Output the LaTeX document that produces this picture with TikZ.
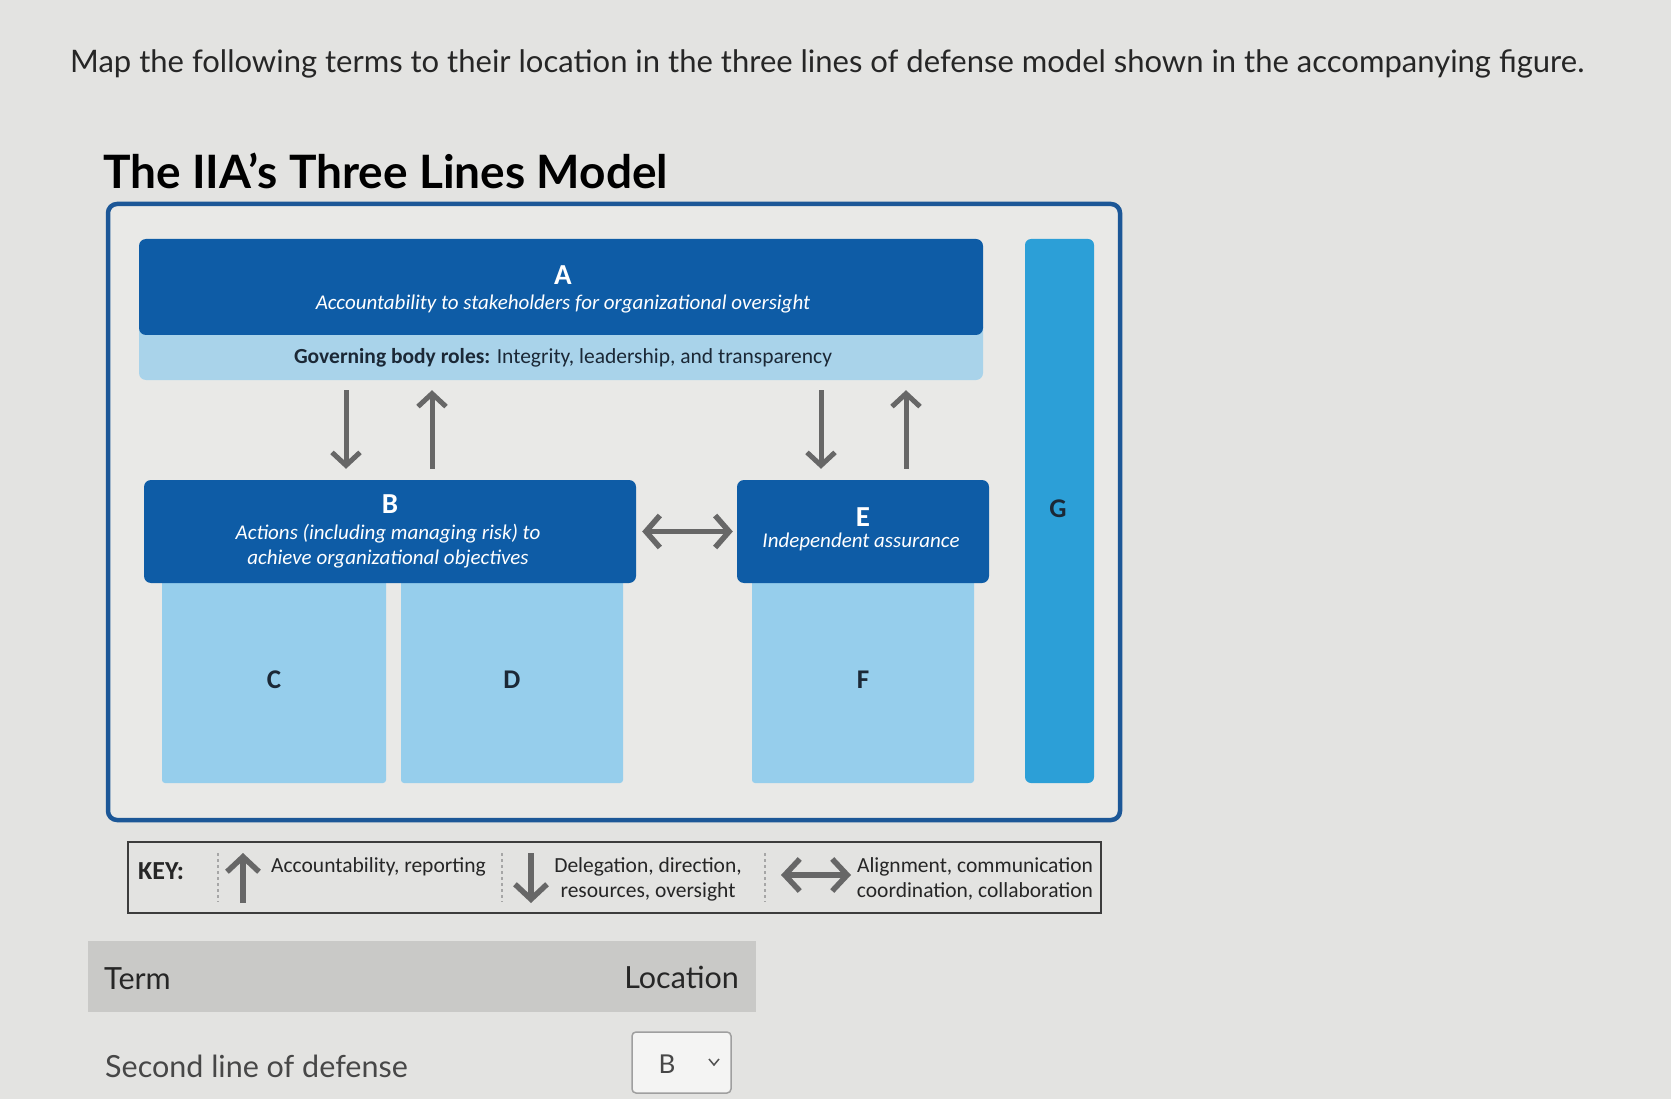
\documentclass[tikz,border=0pt]{standalone}
\usepackage{fontspec}
\setmainfont{Carlito}
\newfontfamily\lato{Lato}
\usetikzlibrary{arrows.meta,calc}
\definecolor{bg}{HTML}{E3E3E1}
\definecolor{inbg}{HTML}{E9E9E7}
\definecolor{dblue}{HTML}{0E5CA6}
\definecolor{band}{HTML}{A9D3EA}
\definecolor{lblue}{HTML}{96CEEC}
\definecolor{gblue}{HTML}{2C9FD7}
\definecolor{frame}{HTML}{1C5797}
\definecolor{arrgray}{HTML}{676767}
\definecolor{navy}{HTML}{1B2836}
\definecolor{txt}{HTML}{262626}
\definecolor{hdr}{HTML}{C9C9C7}
\tikzset{
  darkbox/.style={fill=dblue, rounded corners=7pt, inner sep=0pt},
  letter/.style={text=white, inner sep=0pt, font=\fontsize{29}{30}\selectfont\bfseries},
  desc/.style={text=white, inner sep=0pt, align=center, font=\fontsize{21}{25}\selectfont\itshape},
  lightbox/.style={fill=lblue, rounded corners=3pt, text=navy, inner sep=0pt, font=\fontsize{27}{30}\selectfont\bfseries},
  arr/.style={draw=arrgray, line width=5pt, -{Straight Barb[length=13pt,width=28pt,line width=5pt]}},
  darr/.style={draw=arrgray, line width=5.5pt, {Straight Barb[length=14pt,width=32pt,line width=5.5pt]}-{Straight Barb[length=14pt,width=32pt,line width=5.5pt]}},
  karr/.style={draw=arrgray, line width=5.5pt, -{Straight Barb[length=15pt,width=32pt,line width=5.5pt]}},
  kdarr/.style={draw=arrgray, line width=5.5pt, {Straight Barb[length=15pt,width=32pt,line width=5.5pt]}-{Straight Barb[length=15pt,width=32pt,line width=5.5pt]}},
  sep/.style={draw=gray!70, line width=1.5pt, dashed},
  keytxt/.style={text=txt, align=center, inner sep=0pt, font=\fontsize{21.5}{25}\selectfont},
  tab/.style={text=txt, inner sep=0pt, font=\lato\fontsize{30.5}{34}\selectfont},
}
\begin{document}
\begin{tikzpicture}[x=1pt,y=-1pt]
\useasboundingbox (0,0) rectangle (1671,1099);
\fill[bg] (0,0) rectangle (1671,1099);

% question and title
\node[anchor=west, text=txt, inner sep=0pt, font=\lato\fontsize{31}{36}\selectfont] (q) at (70,64)
  {Map the following terms to their location in the three lines of defense model shown in the accompanying figure.};
\node[anchor=west, text=black, inner sep=0pt, font=\lato\fontsize{46}{52}\selectfont\bfseries] (title) at (103,171)
  {The IIA’s Three Lines Model};

% outer frame
\draw[frame, line width=4.5pt, fill=inbg, rounded corners=9pt] (108,204) rectangle (1120,820);

% band and A
\node[fill=band, rounded corners=7pt, minimum width=844pt, minimum height=60pt, inner sep=0pt] (Band) at (561,350) {};
\node[darkbox, minimum width=844pt, minimum height=96pt] (A) at (561,287) {};
\node[letter] (Al) at (563,275) {A};
\node[desc] (Ad) at (563,304) {Accountability to stakeholders for organizational oversight};
\node[text=navy, inner sep=0pt, font=\fontsize{21.5}{24}\selectfont] (gb) at (563,358)
  {\textbf{Governing body roles:} Integrity, leadership, and transparency};

% G
\node[fill=gblue, rounded corners=6pt, minimum width=69pt, minimum height=544pt, inner sep=0pt] (G) at (1059.5,511) {};
\node[text=navy, inner sep=0pt, font=\fontsize{27}{30}\selectfont\bfseries] (Gl) at (1058,509) {G};

% C D F
\node[lightbox, minimum width=224pt, minimum height=206pt] (C) at (274,680) {C};
\node[lightbox, minimum width=222pt, minimum height=206pt] (D) at (512,680) {D};
\node[lightbox, minimum width=222pt, minimum height=206pt] (F) at (863,680) {F};

% B E
\node[darkbox, minimum width=492pt, minimum height=103pt] (B) at (390,531.5) {};
\node[letter] (Bl) at (390,504) {B};
\node[desc] (Bd) at (388,546) {Actions (including managing risk) to\\achieve organizational objectives};
\node[darkbox, minimum width=252pt, minimum height=103pt] (E) at (863,531.5) {};
\node[letter] (El) at (863,517) {E};
\node[desc] (Ed) at (861,542) {Independent assurance};

% arrows between A and B/E
\coordinate (x1) at (346,0);
\coordinate (x2) at (432,0);
\coordinate (x3) at (821,0);
\coordinate (x4) at (906,0);
\draw[arr, shorten <=10pt, shorten >=11pt] (Band.south -| x1) -- (B.north -| x1);
\draw[arr, shorten <=11pt, shorten >=10pt] (B.north -| x2) -- (Band.south -| x2);
\draw[arr, shorten <=10pt, shorten >=11pt] (Band.south -| x3) -- (E.north -| x3);
\draw[arr, shorten <=11pt, shorten >=10pt] (E.north -| x4) -- (Band.south -| x4);
\draw[darr, shorten <=6pt, shorten >=4pt] (B.east) -- (E.west);

% key
\draw[draw=txt!90, line width=2.5pt] (128,842) rectangle (1101,913);
\node[anchor=west, text=txt, inner sep=0pt, font=\fontsize{26}{28}\selectfont\bfseries] (key) at (138,871) {KEY:};
\draw[sep] (218,853) -- (218,902);
\draw[sep] (502,853) -- (502,902);
\draw[sep] (765,853) -- (765,902);
\coordinate (ku1) at (243,903);
\coordinate (ku2) at (243,853);
\draw[karr] (ku1) -- (ku2);
\coordinate (kd1) at (531,853);
\coordinate (kd2) at (531,903);
\draw[karr] (kd1) -- (kd2);
\coordinate (kb1) at (781,875);
\coordinate (kb2) at (851,875);
\draw[kdarr] (kb1) -- (kb2);
\node[keytxt, anchor=west] (k1) at (271,867) {Accountability, reporting};
\node[keytxt] (k2) at (648,879) {Delegation, direction,\\resources, oversight};
\node[keytxt] (k3) at (975,879) {Alignment, communication\\coordination, collaboration};

% table
\fill[hdr] (88,941) rectangle (756,1012);
\node[tab, anchor=west] (term) at (104,979) {Term};
\node[tab, anchor=east] (loc) at (739,977) {Location};
\node[tab, anchor=west, text=txt!85] (sld) at (105,1066) {Second line of defense};
\draw[draw=gray!75, fill=white!60!bg, rounded corners=4pt, line width=1.5pt] (632,1032) rectangle (731,1093);
\node[text=txt!85, inner sep=0pt, font=\lato\fontsize{26}{30}\selectfont] (sel) at (667,1064) {B};
\draw[txt!80, line width=1.5pt] (709,1059) -- (714,1065) -- (719,1059);
\end{tikzpicture}
\end{document}
